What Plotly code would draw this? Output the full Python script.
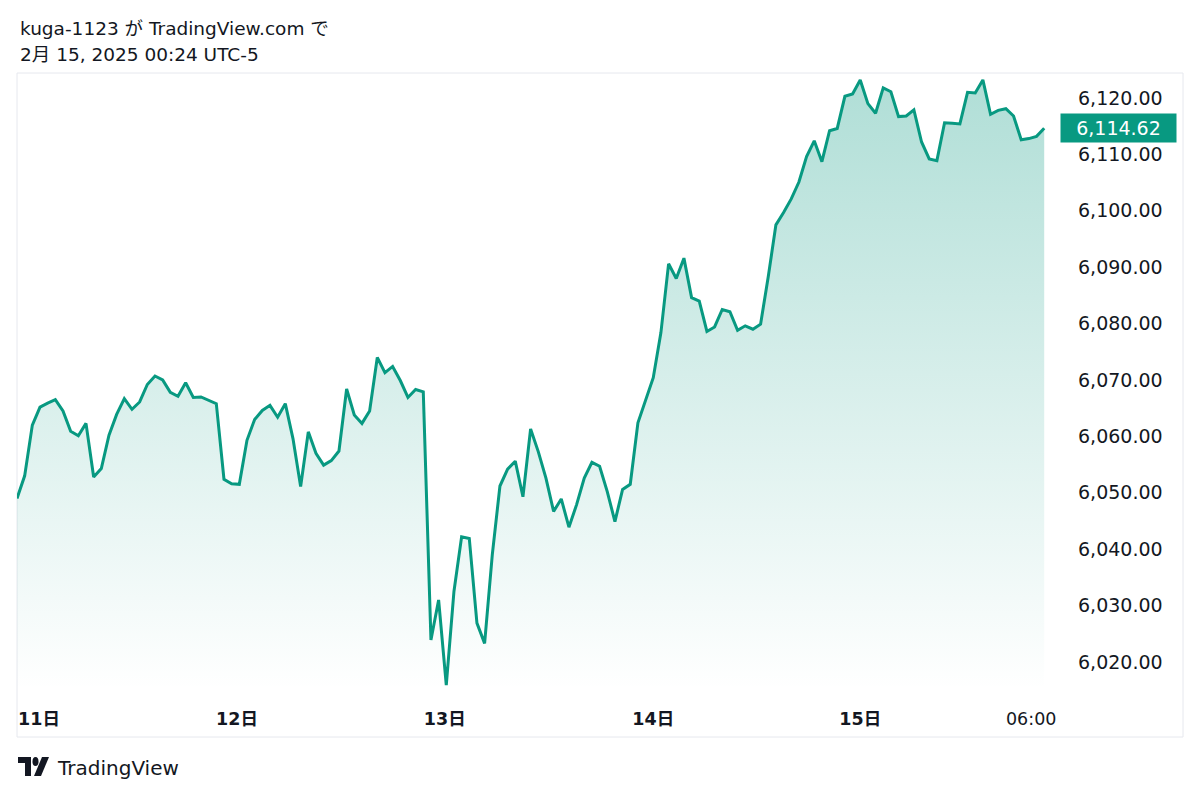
import plotly.graph_objects as go

# ---- data ----
prices = [
    6049.0, 6053.0, 6062.0, 6065.2, 6065.9, 6066.5, 6064.5, 6060.9, 6060.1, 6062.3,
    6052.8, 6054.3, 6060.2, 6063.9, 6066.7, 6064.8, 6066.1, 6069.2, 6070.7, 6070.0,
    6067.8, 6067.1, 6069.5, 6066.9, 6067.0, 6066.4, 6065.8, 6052.4, 6051.6, 6051.5,
    6059.3, 6063.0, 6064.6, 6065.5, 6063.4, 6065.8, 6059.6, 6051.1, 6060.8, 6057.0,
    6054.9, 6055.7, 6057.4, 6068.4, 6063.8, 6062.3, 6064.5, 6074.0, 6071.3, 6072.4,
    6069.9, 6066.9, 6068.3, 6067.9, 6023.9, 6031.0, 6015.9, 6032.5, 6042.2, 6041.9,
    6026.9, 6023.3, 6039.0, 6051.2, 6054.2, 6055.6, 6049.3, 6061.3, 6057.3, 6052.6,
    6046.7, 6048.9, 6043.9, 6047.9, 6052.6, 6055.4, 6054.7, 6050.2, 6044.9, 6050.6,
    6051.5, 6062.4, 6066.4, 6070.4, 6078.4, 6090.6, 6088.0, 6091.6, 6084.6, 6084.0,
    6078.6, 6079.4, 6082.5, 6082.1, 6078.8, 6079.6, 6079.0, 6079.9, 6088.3, 6097.5,
    6099.7, 6102.1, 6105.1, 6109.6, 6112.4, 6108.7, 6114.2, 6114.6, 6120.3, 6120.7,
    6123.2, 6119.0, 6117.3, 6121.8, 6121.1, 6116.7, 6116.8, 6117.9, 6112.2, 6109.2,
    6108.9, 6115.6, 6115.5, 6115.4, 6121.0, 6120.9, 6123.2, 6117.1, 6117.8, 6118.1,
    6116.8, 6112.6, 6112.8, 6113.2, 6114.62,
]
bar_index = list(range(len(prices)))

y_ticks = [6020, 6030, 6040, 6050, 6060, 6070, 6080, 6090, 6100, 6110, 6120]
x_tick_pos = [2.87, 28.7, 55.8, 83.0, 110.0, 132.3]
x_tick_text = ["<b>11日</b>", "<b>12日</b>", "<b>13日</b>", "<b>14日</b>", "<b>15日</b>", "06:00"]
last_price = prices[-1]

title_line1 = "kuga-1123 が TradingView.com で"
title_line2 = "2月 15, 2025 00:24 UTC-5"
brand = "TradingView"

GREEN = "#089981"
TXT = "#131722"
FONT = "DejaVu Sans, Noto Sans CJK JP, sans-serif"

fig = go.Figure()
fig.add_trace(go.Scatter(
    x=bar_index, y=prices, mode="lines",
    line=dict(color=GREEN, width=3),
    fill="tozeroy",
    fillgradient=dict(type="vertical", start=6015, stop=6123,
                      colorscale=[[0, "rgba(8,153,129,0.0)"], [1, "rgba(8,153,129,0.32)"]]),
    hoverinfo="skip", showlegend=False,
))

# page body has an 8px margin: plot area in page pixels is x 17..1060, y 73..690
fig.update_layout(
    width=1200, height=796,
    margin=dict(l=9, r=148, t=65, b=114),
    paper_bgcolor="white", plot_bgcolor="white",
    font=dict(family=FONT, color=TXT),
    xaxis=dict(range=[0, 136.06], showgrid=False, zeroline=False, showline=False,
               tickvals=x_tick_pos, ticktext=x_tick_text, ticks="",
               tickfont=dict(size=17.5, color=TXT, family=FONT), ticklabelstandoff=16),
    yaxis=dict(range=[6015.03, 6124.43], side="right", showgrid=False, zeroline=False,
               showline=False, tickvals=y_ticks, tickformat=",.2f", ticks="",
               tickfont=dict(size=19, color=TXT, family=FONT), ticklabelstandoff=17),
)

def px(x):
    return (x - 17) / 1043

def py(y):
    return (690 - y) / 617

# price tag
fig.add_annotation(xref="paper", yref="y", x=1.0, y=last_price, xanchor="left", yanchor="middle",
                   text=f"{last_price:,.2f}", showarrow=False, bgcolor=GREEN,
                   font=dict(size=19, color="white", family=FONT),
                   width=109, height=22, borderpad=3, align="center")

# header texts
fig.add_annotation(xref="paper", yref="paper", x=px(18), y=py(28),
                   xanchor="left", yanchor="middle", text=title_line1, showarrow=False,
                   font=dict(size=18.5, color=TXT, family=FONT))
fig.add_annotation(xref="paper", yref="paper", x=px(18), y=py(54),
                   xanchor="left", yanchor="middle", text=title_line2, showarrow=False,
                   font=dict(size=18.5, color=TXT, family=FONT))
fig.add_annotation(xref="paper", yref="paper", x=px(55), y=py(768),
                   xanchor="left", yanchor="middle", text=brand, showarrow=False,
                   font=dict(size=20, color=TXT, family=FONT))

# widget border
fig.add_shape(type="rect", xref="paper", yref="paper", x0=px(17), x1=px(1183), y0=py(737), y1=py(73),
              line=dict(color="#e6e8ee", width=1), layer="below")

# logo
logo_left = f"M {px(18)},{py(757)} L {px(31)},{py(757)} L {px(31)},{py(776)} L {px(25)},{py(776)} L {px(25)},{py(763)} L {px(18)},{py(763)} Z"
fig.add_shape(type="path", xref="paper", yref="paper", path=logo_left, fillcolor=TXT, line=dict(width=0))
fig.add_shape(type="circle", xref="paper", yref="paper", x0=px(32.5), x1=px(38.5), y0=py(766), y1=py(757),
              fillcolor=TXT, line=dict(width=0))
logo_slash = f"M {px(42)},{py(757)} L {px(49)},{py(757)} L {px(41)},{py(776)} L {px(34)},{py(776)} Z"
fig.add_shape(type="path", xref="paper", yref="paper", path=logo_slash, fillcolor=TXT, line=dict(width=0))

fig.write_html("out.html")
